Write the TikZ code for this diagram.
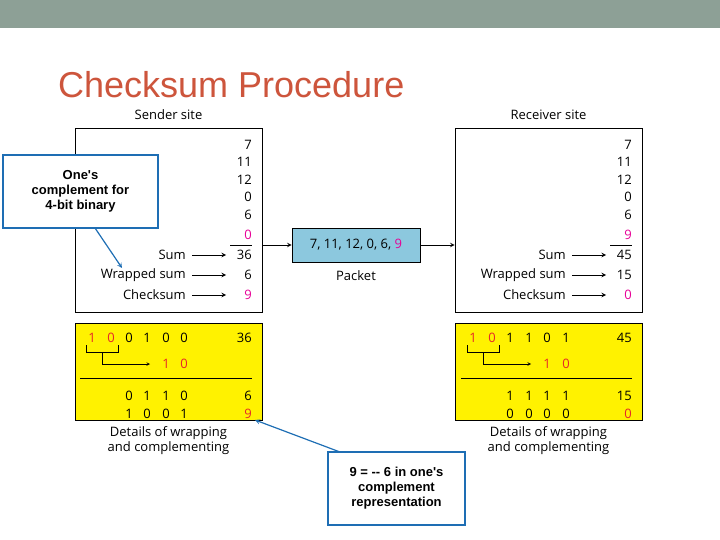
\documentclass[tikz,border=0pt]{standalone}
\usepackage{fontspec}
\setmainfont{Open Sans}
\newfontfamily\arialfont{Liberation Sans}
\usetikzlibrary{positioning}
\definecolor{barGray}{RGB}{141,160,150}
\definecolor{titleRed}{RGB}{205,85,60}
\definecolor{digitRed}{RGB}{230,40,40}
\definecolor{mag}{RGB}{230,0,150}
\definecolor{pktBlue}{RGB}{140,200,222}
\definecolor{callBlue}{RGB}{30,110,180}
\tikzset{
  site/.style={draw, line width=0.8pt, inner sep=0pt},
  detail/.style={draw, fill=yellow, line width=0.8pt, inner sep=0pt},
  num/.style={anchor=east, inner sep=0pt, font=\fontsize{13}{13}\selectfont},
  txt/.style={inner sep=0pt, font=\fontsize{13}{15}\selectfont},
  dig/.style={inner sep=0pt, font=\fontsize{13}{13}\selectfont},
  callout/.style={draw=callBlue, line width=1.2pt, fill=white, align=center, font=\arialfont\bfseries\fontsize{13}{15}\selectfont},
  arr/.style={->, >=stealth, line width=1pt},
}
\begin{document}
\begin{tikzpicture}[x=1pt, y=-1pt]
  \useasboundingbox (0,0) rectangle (720,540);
  \fill[barGray] (0,0) rectangle (720,28);
  \node[anchor=west, inner sep=0pt, text=titleRed, font=\arialfont\fontsize{36}{36}\selectfont] (title) at (58,85) {Checksum Procedure};

  % sender and receiver sites
  \node[site, minimum width=187pt, minimum height=184pt] (S) at (168.5,220) {};
  \node[site, minimum width=187pt, minimum height=184pt] (R) at (548.5,220) {};
  \node[txt, above=8pt of S] {Sender site};
  \node[txt, above=8pt of R] {Receiver site};

  % data items
  \foreach \v/\y/\c in {7/145/black, 11/162/black, 12/180/black, 0/197/black, 6/215/black, 0/235/mag}
    \node[num, text=\c] at (252,\y) {\v};
  \foreach \v/\y/\c in {7/145/black, 11/162/black, 12/180/black, 0/197/black, 6/215/black, 9/235/mag}
    \node[num, text=\c] at (632,\y) {\v};
  \draw (230,245) -- (252,245);
  \draw (610,245) -- (632,245);

  \foreach \lbl/\y/\a/\b/\c in {Sum/255/36/45/black, Wrapped sum/275/6/15/black, Checksum/295/9/0/mag}{
    \node[num] (sl) at (186,\y) {\lbl};
    \node[num] (sv) at (252,\y) {\textcolor{\c}{\a}};
    \draw[arr] (sl.east) ++(6,0) -- ++(34,0);
    \node[num] (rl) at (566,\y) {\lbl};
    \node[num] (rv) at (632,\y) {\textcolor{\c}{\b}};
    \draw[arr] (rl.east) ++(6,0) -- ++(34,0);
  }

  % packet
  \node[draw, fill=pktBlue, line width=0.8pt, minimum width=128pt, minimum height=34pt, txt] (P) at (356,245) {7, 11, 12, 0, 6, \textcolor{mag}{9}};
  \node[txt, below=8pt of P] {Packet};
  \draw[arr] (S.east |- P) -- (P.west);
  \draw[arr] (P.east) -- (R.west |- P);

  % details of wrapping
  \node[detail, minimum width=187pt, minimum height=97pt] (SD) at (168.5,371.5) {};
  \node[detail, minimum width=187pt, minimum height=97pt] (RD) at (548.5,371.5) {};
  \node[txt, align=center, below=6pt of SD] {Details of wrapping\\and complementing};
  \node[txt, align=center, below=6pt of RD] {Details of wrapping\\and complementing};

  % sender digits
  \foreach \d/\x/\c in {1/92/digitRed, 0/111/digitRed, 0/129/black, 1/147/black, 0/166/black, 0/184/black}
    \node[dig, text=\c] at (\x,338) {\d};
  \foreach \d/\x in {1/166, 0/184} \node[dig, text=digitRed] at (\x,364) {\d};
  \foreach \d/\x in {0/129, 1/147, 1/166, 0/184} \node[dig] at (\x,396) {\d};
  \foreach \d/\x in {1/129, 0/147, 0/166, 1/184} \node[dig] at (\x,414) {\d};
  \node[num] at (252,338) {36};
  \node[num] at (252,396) {6};
  \node[num, text=digitRed] at (252,414) {9};
  \draw (86,345) -- (86,352) -- (118,352) -- (118,345);
  \draw[arr, line width=0.6pt] (102,352) -- (102,364) -- (150,364);
  \draw (80,378) -- (252,378);

  % receiver digits
  \foreach \d/\x/\c in {1/473/digitRed, 0/492/digitRed, 1/510/black, 1/529/black, 0/547/black, 1/566/black}
    \node[dig, text=\c] at (\x,338) {\d};
  \foreach \d/\x in {1/547, 0/566} \node[dig, text=digitRed] at (\x,364) {\d};
  \foreach \d/\x in {1/510, 1/529, 1/547, 1/566} \node[dig] at (\x,396) {\d};
  \foreach \d/\x in {0/510, 0/529, 0/547, 0/566} \node[dig] at (\x,414) {\d};
  \node[num] at (632,338) {45};
  \node[num] at (632,396) {15};
  \node[num, text=digitRed] at (632,414) {0};
  \draw (467,345) -- (467,352) -- (499,352) -- (499,345);
  \draw[arr, line width=0.6pt] (483,352) -- (483,364) -- (531,364);
  \draw (461,378) -- (632,378);

  % callouts
  \node[callout, minimum width=155pt, minimum height=73pt] (C1) at (80.5,191.5) {One's\\complement for\\4-bit binary};
  \coordinate (c1end) at (122,268);
  \draw[arr, callBlue, line width=1.2pt] (95,228) -- (c1end);
  \node[callout, minimum width=137pt, minimum height=73pt] (C2) at (396.5,488.5) {9 = -- 6 in one's\\complement\\representation};
  \coordinate (c2end) at (255,420);
  \draw[arr, callBlue, line width=1.2pt] (340,452) -- (c2end);
\end{tikzpicture}
\end{document}
